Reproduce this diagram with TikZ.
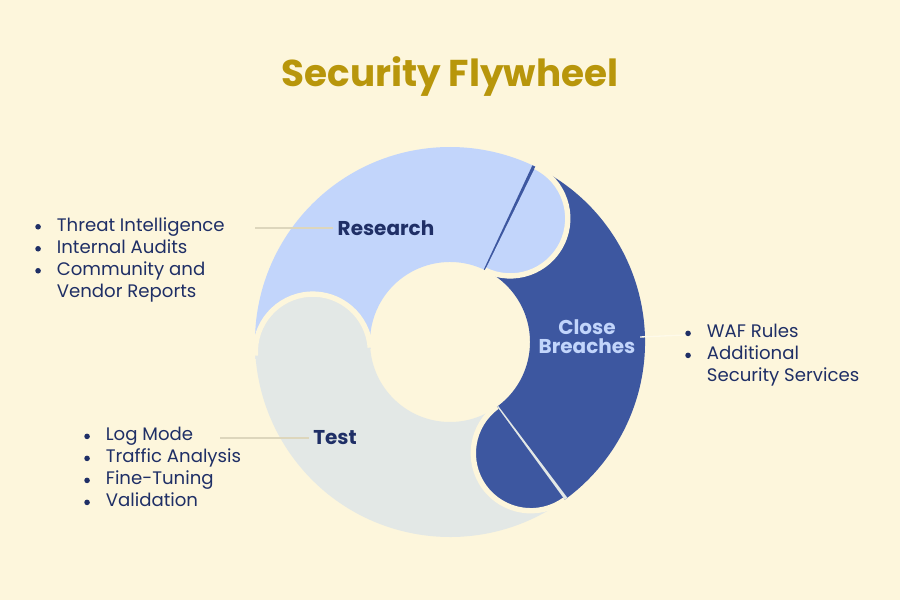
\documentclass[tikz,border=0pt]{standalone}
\usepackage{fontspec}
\setmainfont{Poppins}
\newfontfamily\headfont{Poppins Bold}
\definecolor{bg}{HTML}{FDF6DC}
\definecolor{res}{HTML}{C2D5FB}
\definecolor{cb}{HTML}{3D57A0}
\definecolor{tst}{HTML}{E3E8E6}
\definecolor{gold}{HTML}{B8960B}
\definecolor{navy}{HTML}{1F2F66}
\definecolor{lead}{HTML}{DDD6BC}
\newcommand{\bul}{\raisebox{0.15ex}{\tikz\fill[navy] (0,0) circle (2.1pt);}\hspace{12pt}}
\tikzset{
  lbl/.style={font=\headfont\fontsize{15}{17}\selectfont, text=navy, align=center},
  item/.style={font=\fontsize{13.6}{16.5}\selectfont, text=navy, align=left, anchor=north west, inner sep=0pt},
  leader/.style={draw=lead, line width=1pt},
  bulbcap/.style={draw=bg, line width=4pt}
}
\begin{document}
\begin{tikzpicture}[x=0.75pt,y=0.75pt]
\fill[bg] (0,0) rectangle (900,600);
\useasboundingbox (0,0) rectangle (900,600);
\node[font=\headfont\fontsize{28}{32}\selectfont, text=gold] (title) at (450,523) {Security Flywheel};
\begin{scope}[shift={(450,258)}]
  \fill[res] (185:195) arc[start angle=185,end angle=62,radius=195] -- (62:80) arc[start angle=62,end angle=185,radius=80] -- cycle;
  \fill[cb] (65:195) arc[start angle=65,end angle=-56,radius=195] -- (-56:80) arc[start angle=-56,end angle=65,radius=80] -- cycle;
  \fill[tst] (-53:195) arc[start angle=-53,end angle=-178,radius=195] -- (-178:80) arc[start angle=-178,end angle=-53,radius=80] -- cycle;
  \filldraw[fill=res,bulbcap] (64:195) arc[start angle=64,end angle=-116,radius=57.5];
  \filldraw[fill=cb,bulbcap] (-54:195) arc[start angle=-54,end angle=-234,radius=57.5];
  \filldraw[fill=tst,bulbcap] (184:195) arc[start angle=184,end angle=4,radius=57.5];
\end{scope}
\node[lbl] (research) at (386,372) {Research};
\node[lbl, text=res] (close) at (587,263) {Close\\[-3pt]Breaches};
\node[lbl] (test) at (335,162) {Test};
\coordinate (r1) at (255,372);
\coordinate (c1) at (685,265);
\coordinate (t1) at (220,162);
\draw[leader] (r1) -- (research.west);
\draw[leader,draw=bg!60!white] (close.east) -- (c1);
\draw[leader] (t1) -- (test.west);
\node[item] (ritems) at (35,383) {%
  \bul Threat Intelligence\\
  \bul Internal Audits\\
  \bul Community and\\
  \hphantom{\bul}Vendor Reports};
\node[item] (citems) at (685,276) {%
  \bul WAF Rules\\
  \bul Additional\\
  \hphantom{\bul}Security Services};
\node[item] (titems) at (84,173) {%
  \bul Log Mode\\
  \bul Traffic Analysis\\
  \bul Fine-Tuning\\
  \bul Validation};
\end{tikzpicture}
\end{document}
